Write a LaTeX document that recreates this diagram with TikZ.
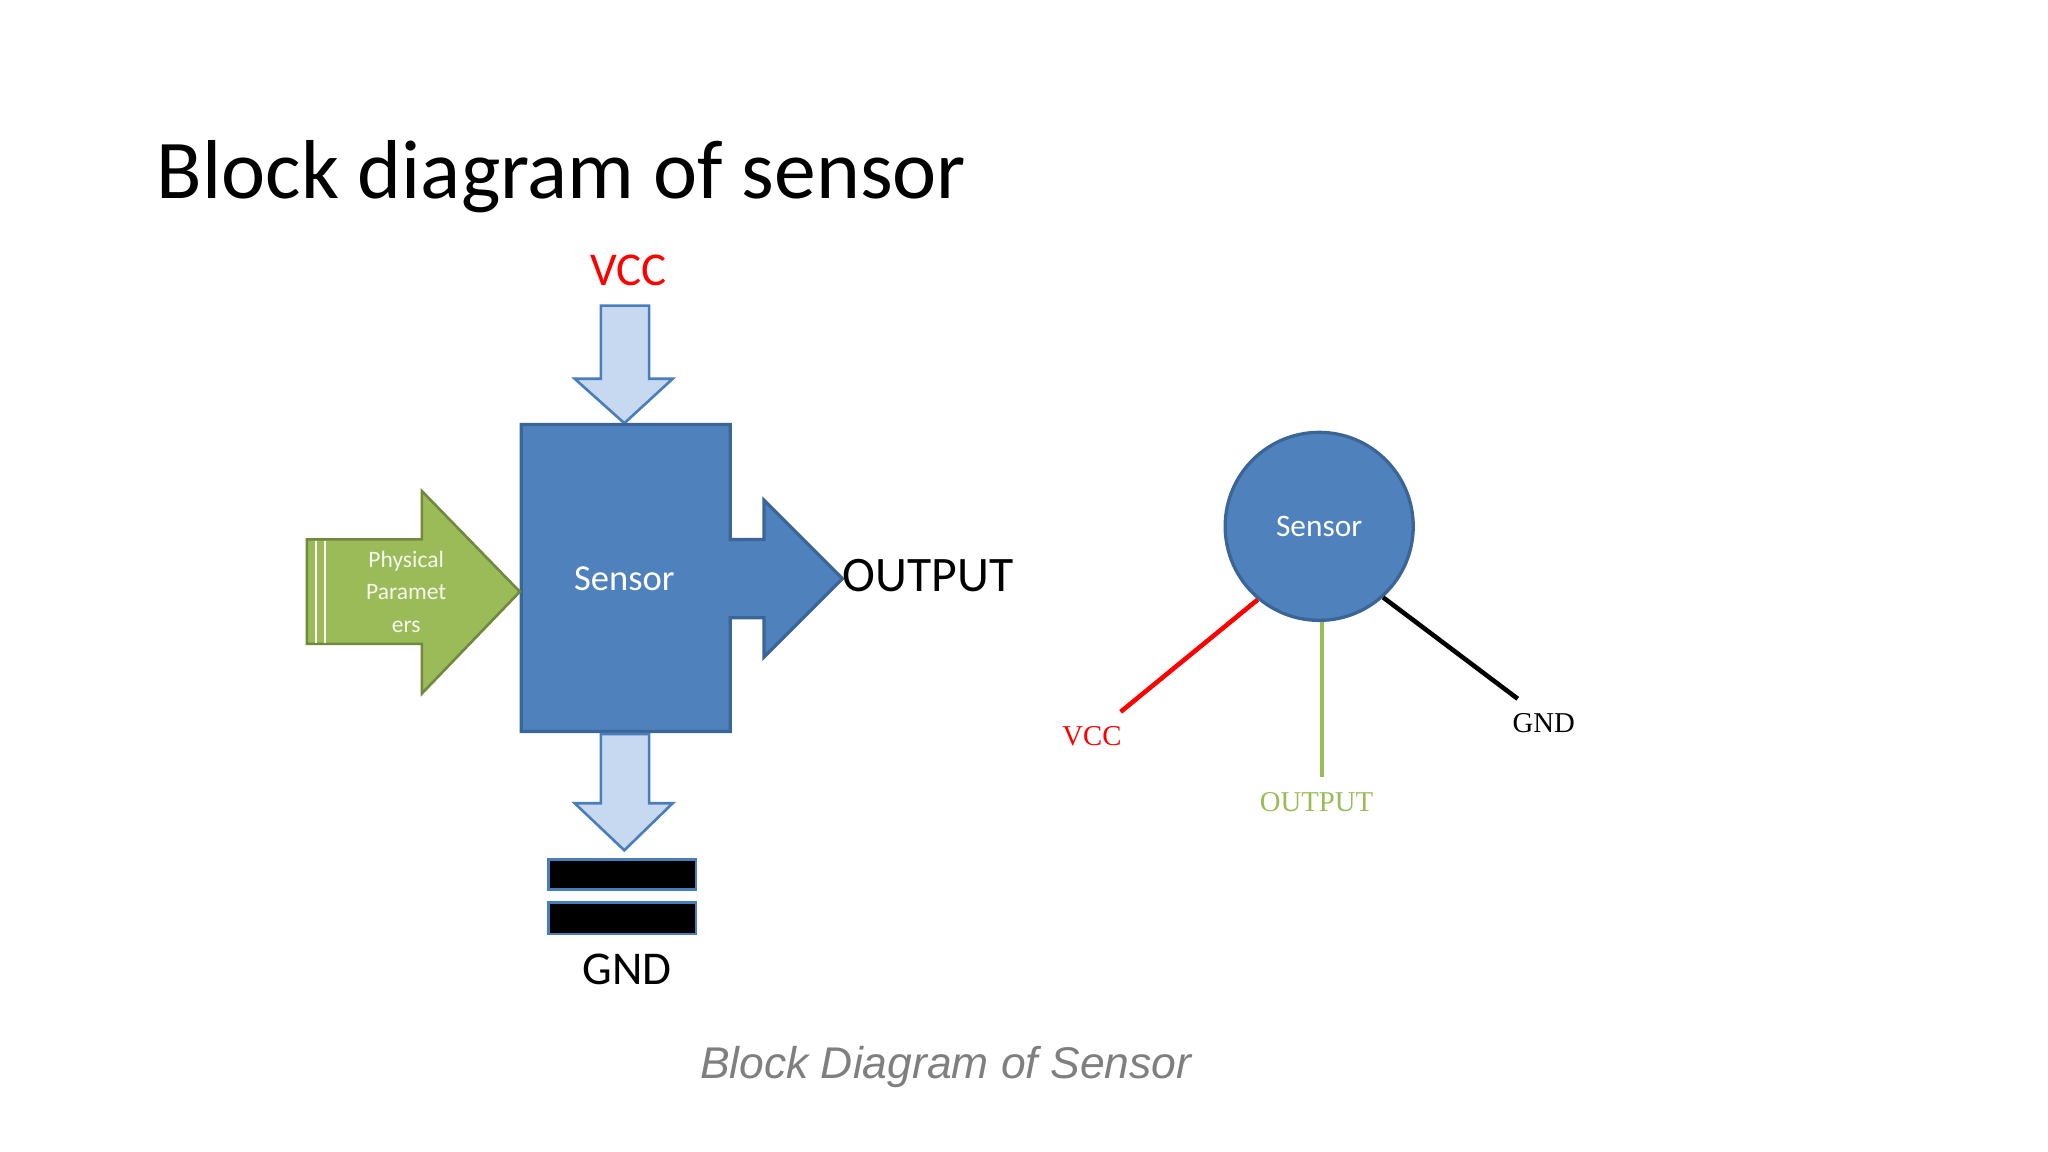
\documentclass[tikz,border=0pt]{standalone}
\usepackage{fontspec}
\setmainfont{Carlito}
\newfontfamily\serifff{Liberation Serif}
\newfontfamily\capff{Liberation Sans}
\begin{document}
\begin{tikzpicture}[x=1pt,y=-1pt,
  blk/.style={fill=blue1,draw=blue2,line width=2.5pt},
  lb/.style={fill=lblue,draw=blue3,line width=2pt},
  grn/.style={fill=green1,draw=green2,line width=2pt},
  wire/.style={line width=3.5pt}]
\definecolor{blue1}{HTML}{4F81BD}
\definecolor{blue2}{HTML}{3A6596}
\definecolor{blue3}{HTML}{4A7EBB}
\definecolor{lblue}{HTML}{C6D9F1}
\definecolor{green1}{HTML}{9BBB59}
\definecolor{green2}{HTML}{71893F}
\definecolor{capgray}{HTML}{7F7F7F}
\useasboundingbox (0,0) rectangle (1568,882);
\node[anchor=base west,font=\fontsize{64}{70}\selectfont,inner sep=0] (title) at (120,152) {Block diagram of sensor};
% VCC arrow
\node[text=red,font=\fontsize{36}{40}\selectfont] (vcc) at (481,207) {VCC};
\draw[lb] (460,234) -- (497,234) -- (497,290) -- (515,290) -- (478,324) -- (440,290) -- (460,290) -- cycle;
% Sensor box + output arrow
\draw[blk] (399,325) -- (559,325) -- (559,413) -- (585,413) -- (585,383) -- (645,443) -- (585,503) -- (585,473) -- (559,473) -- (559,560) -- (399,560) -- cycle;
\node[text=white,font=\fontsize{28}{32}\selectfont] (sensor) at (478,443) {Sensor};
\node[anchor=west,font=\fontsize{38}{42}\selectfont,inner sep=0] (out) at (645,441) {OUTPUT};
% physical parameters arrow
\draw[grn] (235,413) -- (323,413) -- (323,376) -- (398,453) -- (323,531) -- (323,493) -- (235,493) -- cycle;
\draw[white,line width=1.5pt] (242,414) -- (242,492) (249,414) -- (249,492);
\node[text=white!90!green1,font=\fontsize{18}{25}\selectfont,align=center] (phys) at (311,453) {Physical\\Paramet\\ers};
% GND arrow
\draw[lb] (460,562) -- (497,562) -- (497,615) -- (515,615) -- (478,651) -- (440,615) -- (460,615) -- cycle;
\draw[fill=black,draw=blue3,line width=2pt] (420,658) rectangle (533,681);
\draw[fill=black,draw=blue3,line width=2pt] (420,691) rectangle (533,715);
\node[font=\fontsize{36}{40}\selectfont] (gnd) at (480,742) {GND};
\node[text=capgray,font=\capff\itshape\fontsize{34}{38}\selectfont] (cap) at (724,817) {Block Diagram of Sensor};
% right diagram
\node[circle,blk,minimum size=144pt,inner sep=0,text=white,font=\fontsize{24}{28}\selectfont] (c) at (1010,403) {Sensor};
\coordinate (v) at (858,545);
\coordinate (o) at (1012,595);
\coordinate (g) at (1162,535);
\draw[wire,red] (c.230) -- (v);
\draw[wire,green1] (c.south) ++(2,0) -- (o);
\draw[wire,black] (c.-48) -- (g);
\node[text=red,font=\serifff\fontsize{22}{26}\selectfont] (vl) at (836,564) {VCC};
\node[text=green1,font=\serifff\fontsize{22}{26}\selectfont] (ol) at (1008,614) {OUTPUT};
\node[font=\serifff\fontsize{22}{26}\selectfont] (gl) at (1182,554) {GND};
\end{tikzpicture}
\end{document}
